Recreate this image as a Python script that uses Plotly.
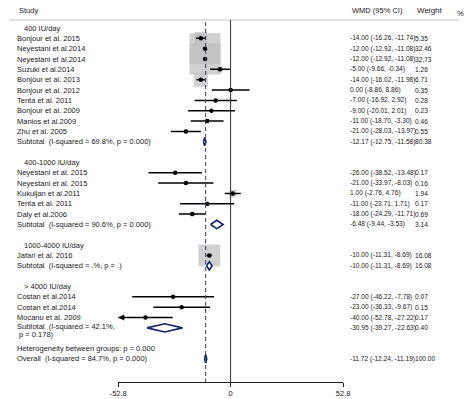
import plotly.graph_objects as go

# ---------------- data ----------------
group_labels = ["400 IU/day", "400-1000 IU/day", "1000-4000 IU/day", "> 4000 IU/day"]

study_names = [
    "Bonjour et al. 2015", "Neyestani et al.2014", "Neyestani et al.2014", "Suzuki et al.2014",
    "Bonjour et al. 2013", "Bonjour et al. 2012", "Tenta et al. 2011", "Bonjour et al. 2009",
    "Manios et al.2009", "Zhu et al. 2005",
    "Neyestani et al. 2015", "Neyestani et al. 2015", "Kukuljan et al.2011", "Tenta et al. 2011",
    "Daly et al.2006",
    "Jafari et al. 2016",
    "Costan et al.2014", "Costan et al.2014", "Mocanu et al. 2009",
]
study_group = [0] * 10 + [1] * 5 + [2] + [3] * 3
wmd = [-14.00, -12.00, -12.00, -5.00, -14.00, 0.00, -7.00, -9.00, -11.00, -21.00,
       -26.00, -21.00, 1.00, -11.00, -18.00,
       -10.00,
       -27.00, -23.00, -40.00]
ci_lo = [-16.26, -12.92, -12.92, -9.66, -16.02, -8.86, -16.92, -20.01, -18.70, -28.03,
         -38.52, -33.97, -2.76, -23.71, -24.29,
         -11.31,
         -46.22, -36.33, -52.78]
ci_hi = [-11.74, -11.08, -11.08, -0.34, -11.98, 8.86, 2.92, 2.01, -3.30, -13.97,
         -13.48, -8.03, 4.76, 1.71, -11.71,
         -8.69,
         -7.78, -9.67, -27.22]
weights = [5.35, 32.46, 32.73, 1.26, 6.71, 0.35, 0.28, 0.23, 0.46, 0.55,
           0.17, 0.16, 1.94, 0.17, 0.69,
           16.08,
           0.07, 0.15, 0.17]

subtotal_labels = [
    "Subtotal  (I-squared = 69.8%, p = 0.000)",
    "Subtotal  (I-squared = 90.6%, p = 0.000)",
    "Subtotal  (I-squared = .%, p = .)",
    "Subtotal  (I-squared = 42.1%,\n p = 0.178)",
]
sub_wmd = [-12.17, -6.48, -10.00, -30.95]
sub_lo = [-12.75, -9.44, -11.31, -39.27]
sub_hi = [-11.58, -3.53, -8.69, -22.63]
sub_weight = [80.38, 3.14, 16.08, 0.40]

heterogeneity_label = "Heterogeneity between groups: p = 0.000"
overall_label = "Overall  (I-squared = 84.7%, p = 0.000)"
overall_wmd, overall_lo, overall_hi, overall_weight = -11.72, -12.24, -11.19, 100.00

x_ticks = [-52.8, 0, 52.8]
x_tick_labels = ["-52.8", "0", "52.8"]

# ---------------- layout helpers ----------------
W, H = 474, 399
ROW0, ROWH = 28.0, 10.34       # pixel y of first row, row spacing
AXIS_PX = 382.0                # pixel y of x axis line
X_LEFT_PX, X_RIGHT_PX = 113.0, 345.7
FONT = "Liberation Sans, Arial, sans-serif"
TXT = "#1a1a1a"
FS = 7.5
FS_R = 6.6


def px_to_row(py):
    return (py - ROW0) / ROWH


def fmt_ci(e, lo, hi):
    return f"{e:.2f} ({lo:.2f}, {hi:.2f})"


# compute row positions from the group structure
row = 0
group_rows, study_rows, sub_rows = [], [], []
for g in range(len(group_labels)):
    group_rows.append(row)
    row += 1
    for i, sg in enumerate(study_group):
        if sg == g:
            study_rows.append(row)
            row += 1
    sub_rows.append(row)
    row += 2  # subtotal + blank
het_row = row
overall_row = row + 1

fig = go.Figure()

# gray weight boxes
fig.add_trace(go.Scatter(
    x=wmd, y=study_rows, mode="markers",
    marker=dict(symbol="square", size=[5.43 * w ** 0.5 for w in weights],
                color="#bdbdbd", line=dict(width=0)),
    hoverinfo="skip", cliponaxis=False, showlegend=False))

# CI lines
lx, ly = [], []
for lo, hi, r in zip(ci_lo, ci_hi, study_rows):
    lx += [lo, hi, None]
    ly += [r, r, None]
fig.add_trace(go.Scatter(x=lx, y=ly, mode="lines", line=dict(color="black", width=1.5),
                         hoverinfo="skip", showlegend=False, cliponaxis=False))

# arrows for CIs reaching the axis limit
arr_x = [lo for lo in ci_lo if lo <= x_ticks[0] + 0.1]
arr_y = [r for lo, r in zip(ci_lo, study_rows) if lo <= x_ticks[0] + 0.1]
fig.add_trace(go.Scatter(x=arr_x, y=arr_y, mode="markers",
                         marker=dict(symbol="arrow-left", size=6, color="black", line=dict(width=0)),
                         hoverinfo="skip", showlegend=False, cliponaxis=False))

# point estimates
fig.add_trace(go.Scatter(x=wmd, y=study_rows, mode="markers",
                         marker=dict(symbol="circle", size=4.5, color="black", line=dict(width=0)),
                         hoverinfo="skip", showlegend=False, cliponaxis=False))

# diamonds (subtotals + overall)
DH = 0.4
for e, lo, hi, r in list(zip(sub_wmd, sub_lo, sub_hi, sub_rows)) + [(overall_wmd, overall_lo, overall_hi, overall_row)]:
    fig.add_trace(go.Scatter(
        x=[lo, e, hi, e, lo], y=[r, r - DH, r, r + DH, r], mode="lines",
        fill="toself", fillcolor="white", line=dict(color="#15256b", width=1.6),
        hoverinfo="skip", showlegend=False, cliponaxis=False))

# ---------------- shapes ----------------
top_row = px_to_row(20)
bottom_row = px_to_row(AXIS_PX)
shapes = [
    dict(type="line", xref="paper", yref="y", x0=0, x1=466 / W, y0=top_row, y1=top_row,
         line=dict(color="#c4c4c4", width=1)),
    dict(type="line", xref="x", yref="y", x0=0, x1=0, y0=top_row, y1=bottom_row,
         line=dict(color="#333333", width=1)),
    dict(type="line", xref="x", yref="y", x0=overall_wmd, x1=overall_wmd,
         y0=px_to_row(22), y1=bottom_row,
         line=dict(color="#3b3f5c", width=1, dash="4px,3px")),
]

# ---------------- annotations ----------------
ann = []


def txt(x_px, r, s, anchor="left", size=FS):
    ann.append(dict(x=x_px / W, y=r, xref="paper", yref="y", text=s.replace("  ", "\u00a0\u00a0"),
                    showarrow=False, xanchor=anchor, yanchor="middle", borderpad=0,
                    font=dict(family=FONT, size=size, color=TXT)))


def rtxt(x_px, r, s):
    txt(x_px, r, s, size=FS_R)


WMD_X, WT_X = 352, 419
txt(9, px_to_row(10), "Study")
txt(354, px_to_row(10), "WMD (95% CI)")
txt(421, px_to_row(10), "Weight", size=8)
txt(463, px_to_row(13), "%")

for g, r in enumerate(group_rows):
    txt(14, r, group_labels[g])
for i, r in enumerate(study_rows):
    txt(7, r, study_names[i])
    rtxt(WMD_X, r, fmt_ci(wmd[i], ci_lo[i], ci_hi[i]))
    rtxt(WT_X, r, f"{weights[i]:.2f}")
for g, r in enumerate(sub_rows):
    lines = subtotal_labels[g].split("\n")
    if len(lines) == 1:
        txt(7, r, lines[0])
    else:
        txt(7, r - 0.15, lines[0])
        txt(7, r + 0.6, lines[1].replace(" ", "\u00a0", 1))
    rtxt(WMD_X, r, fmt_ci(sub_wmd[g], sub_lo[g], sub_hi[g]))
    rtxt(WT_X, r, f"{sub_weight[g]:.2f}")
txt(7, het_row, heterogeneity_label)
txt(7, overall_row, overall_label)
rtxt(WMD_X, overall_row, fmt_ci(overall_wmd, overall_lo, overall_hi))
rtxt(WT_X, overall_row, f"{overall_weight:.2f}")

fig.update_layout(
    width=W, height=H, margin=dict(l=0, r=0, t=0, b=0),
    paper_bgcolor="white", plot_bgcolor="white",
    shapes=shapes, annotations=ann, showlegend=False,
    xaxis=dict(domain=[X_LEFT_PX / W, X_RIGHT_PX / W], range=[x_ticks[0], x_ticks[-1]],
               showgrid=False, zeroline=False, showline=True, linecolor="#222", linewidth=1,
               ticks="outside", ticklen=4, tickcolor="#222", tickwidth=1,
               tickvals=x_ticks, ticktext=x_tick_labels,
               tickfont=dict(family=FONT, size=FS, color=TXT), fixedrange=True),
    yaxis=dict(domain=[1 - AXIS_PX / H, 1], range=[bottom_row, px_to_row(0)],
               showgrid=False, zeroline=False, showline=False, showticklabels=False,
               ticks="", fixedrange=True),
)

fig.write_html("out.html", config={"displayModeBar": False},
               post_script="document.body.style.margin='0px';document.body.style.overflow='hidden';")
